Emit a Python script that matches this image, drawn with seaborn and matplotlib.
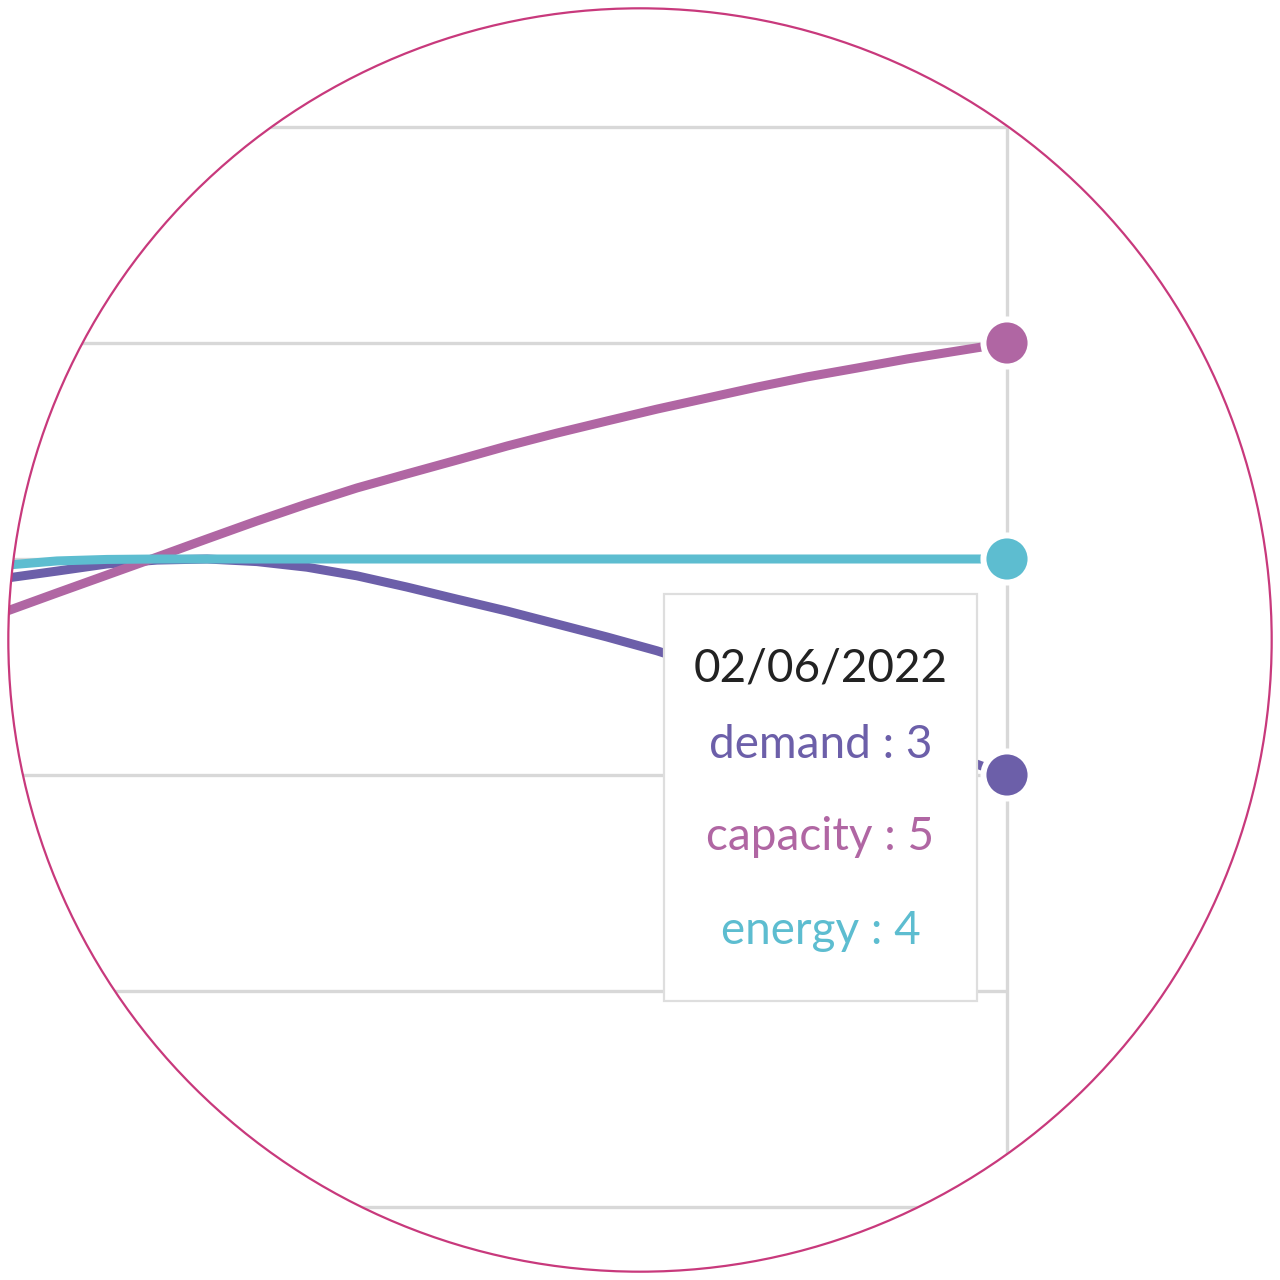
import pandas as pd
import matplotlib.pyplot as plt
from matplotlib.patches import Circle, Rectangle
import seaborn as sns

# readings along the x axis (tenths of the last day shown, last point = 02/06/2022)
t = [0, 0.5, 1, 1.5, 2, 2.5, 3, 3.5, 4, 4.5, 5, 5.5, 6, 6.5, 7, 7.5, 8, 8.5, 9, 9.5, 10]
demand = [3.912, 3.944, 3.977, 3.995, 4.0, 3.988, 3.962, 3.922, 3.870, 3.814, 3.759,
          3.699, 3.639, 3.575, 3.500, 3.417, 3.333, 3.250, 3.167, 3.083, 3]
capacity = [3.759, 3.843, 3.926, 4.009, 4.093, 4.176, 4.255, 4.329, 4.394, 4.458, 4.523,
            4.583, 4.639, 4.694, 4.745, 4.796, 4.843, 4.884, 4.926, 4.963, 5]
energy = [3.972, 3.991, 3.998, 4, 4, 4, 4, 4, 4, 4, 4,
          4, 4, 4, 4, 4, 4, 4, 4, 4, 4]

series = ["demand", "capacity", "energy"]
colors = {"demand": "#6c5fa9", "capacity": "#b066a3", "energy": "#5dbdd0"}
y_grid = [1, 2, 3, 4, 5, 6]
tooltip_date = "02/06/2022"

df = pd.DataFrame({"t": t * 3,
                   "value": demand + capacity + energy,
                   "series": [s for s in series for _ in t]})
last = df[df["t"] == t[-1]]

sns.set_style("white")
plt.rcParams["font.family"] = ["Lato", "DejaVu Sans"]

fig = plt.figure(figsize=(12.8, 12.8), dpi=100)
ax = fig.add_axes([0, 0, 1, 1])

grid_col = "#d8d8d8"
ax.hlines(y_grid, t[0] - 5, t[-1], color=grid_col, lw=2.4, zorder=1)
ax.vlines(t[-1], y_grid[0], y_grid[-1], color=grid_col, lw=2.4, zorder=1)

sns.lineplot(data=df, x="t", y="value", hue="series", hue_order=series,
             palette=colors, linewidth=6.5, legend=False, ax=ax, zorder=2)
sns.scatterplot(data=last, x="t", y="value", hue="series", hue_order=series,
                palette=colors, s=1150, edgecolor="white", linewidth=4.3,
                legend=False, ax=ax, zorder=3)

ax.set_xlim(-0.07, 12.73)
ax.set_ylim(0.662, 6.588)
ax.axis("off")

# round frame, everything clipped to it
clip = Circle((0.5, 0.5), 0.4935, transform=ax.transAxes)
for art in ax.lines + ax.collections:
    art.set_clip_path(clip)
ax.add_patch(Circle((0.5, 0.5), 0.4935, transform=ax.transAxes, fill=False,
                    edgecolor="#c8397c", lw=1.6, clip_on=False, zorder=10))

# tooltip
ax.add_patch(Rectangle((0.519, 0.218), 0.2445, 0.318, transform=ax.transAxes,
                       facecolor="white", edgecolor="#dedede", lw=1.6, zorder=5))
tx = 0.641
ax.text(tx, 0.478, tooltip_date, transform=ax.transAxes, ha="center", va="center",
        fontsize=33, color="#222222", zorder=6)
for s, ty in zip(series, [0.418, 0.346, 0.273]):
    v = last.loc[last["series"] == s, "value"].iloc[0]
    ax.text(tx, ty, f"{s} : {v:g}", transform=ax.transAxes, ha="center",
            va="center", fontsize=33, color=colors[s], zorder=6)

fig.savefig("out.png", dpi=100, facecolor="white")
